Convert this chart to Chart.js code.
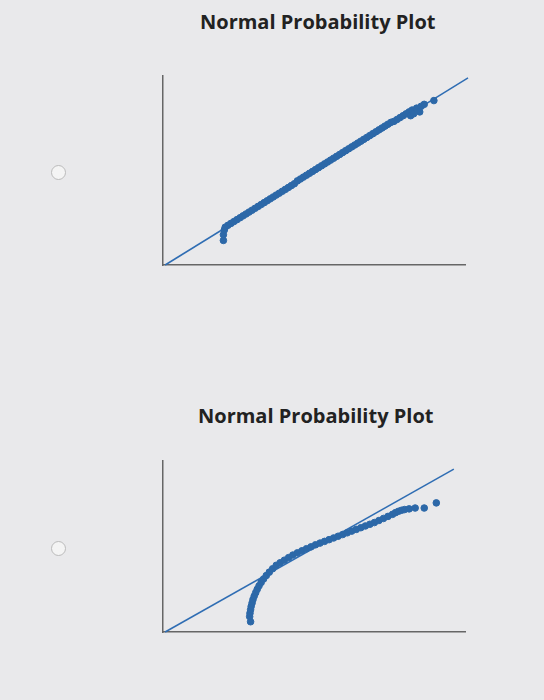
<!DOCTYPE html>
<html><head><meta charset="utf-8">
<script src="https://cdn.jsdelivr.net/npm/chart.js@4/dist/chart.umd.min.js"></script>
<style>
body{margin:0;background:#e9e9eb;width:544px;height:700px;position:relative;overflow:hidden;font-family:"Open Sans",sans-serif}
.t{position:absolute;font-weight:700;font-size:20px;color:#222;white-space:nowrap}
.r{position:absolute;width:13px;height:13px;border:1.5px solid #bbb;border-radius:50%;background:#f4f4f4}
.c{position:absolute}
</style></head><body>
<div class="t" style="left:200px;top:8px">Normal Probability Plot</div>
<div class="t" style="left:198px;top:402px">Normal Probability Plot</div>
<div class="r" style="left:51px;top:165px"></div>
<div class="r" style="left:51px;top:541px"></div>
<div class="c" style="left:158px;top:70px;width:315px;height:200px"><canvas id="c1"></canvas></div>
<div class="c" style="left:158px;top:455px;width:315px;height:182px"><canvas id="c2"></canvas></div>
<script>
const line1 = [[0.7,0],[101,99]];
const pts1 = [[20,13],[20,16],[20.3,18.5],[20.6,20],[21.5,21],[22.5,22],[23.5,23],[24.5,24],[25.5,25],[26.5,26],[27.5,27],[28.5,28],[29.5,29],[30.5,30],[31.5,31],[32.5,32],[33.5,33],[34.5,34],[35.5,35],[36.5,36],[37.5,37],[38.5,38],[39.5,39],[40.5,40],[41.5,41],[42.5,42],[43.5,43],[44.5,44.5],[45.5,45.5],[46.5,46.5],[47.5,47.5],[48.5,48.5],[49.5,49.5],[50.5,50.5],[51.5,51.5],[52.5,52.5],[53.5,53.5],[54.5,54.5],[55.5,55.5],[56.5,56.5],[57.5,57.5],[58.5,58.5],[59.5,59.5],[60.5,60.5],[61.5,61.5],[62.5,62.5],[63.5,63.5],[64.5,64.5],[65.5,65.5],[66.5,66.5],[67.5,67.5],[68.5,68.5],[69.5,69.5],[70.5,70.5],[71.5,71.5],[72.5,72.5],[73.5,73.5],[74.5,74.5],[75.5,75.5],[76.5,76],[77.5,77],[78.5,78],[79.5,79],[80.5,80],[81.5,81],[82,79],[82.5,82],[83,80],[84,83],[85,81],[85.5,84],[86.5,85],[89.7,87]];
const line2 = [[0.7,0],[96.3,95.3]];
const pts2 = [[29,6],[28.7,9],[28.8,11],[29,13],[29.2,15],[29.5,17],[29.8,19],[30.2,21],[30.7,23],[31.2,25],[31.8,27],[32.5,29],[33.3,31],[34.2,33],[35.2,35],[36.3,37],[37.5,39],[38.8,40.5],[40.2,42],[41.6,43.5],[43,45],[44.5,46.3],[46,47.5],[47.5,48.7],[49,49.8],[50.5,51],[52,52],[53.5,53],[55,54],[56.5,55],[58,56],[59.5,57],[61,58],[62.5,59],[64,60],[65.5,61],[67,62],[68.5,63],[70,64],[71.5,65.2],[73,66.4],[74.5,67.6],[76,68.8],[77,69.8],[78,70.6],[79,71.2],[80,71.6],[81.5,72],[83.5,72.5],[86.5,72.5],[90.5,75.5]];
function make(id, line, pts){
  new Chart(document.getElementById(id),{
    type:'scatter',
    data:{datasets:[
      {data:pts.map(p=>({x:p[0],y:p[1]})),backgroundColor:'#2c68a8',borderColor:'#2c68a8',pointRadius:3.3},
      {type:'line',data:line.map(p=>({x:p[0],y:p[1]})),borderColor:'#2f6db3',borderWidth:1.5,pointRadius:0,clip:false}
    ]},
    options:{responsive:true,maintainAspectRatio:false,animation:false,
      layout:{padding:{left:0,right:8,top:6,bottom:0}},
      plugins:{legend:{display:false},tooltip:{enabled:false}},
      scales:{
        x:{type:'linear',min:0,max:100,ticks:{display:false},grid:{display:false,drawTicks:false},border:{color:'#666',width:1.5}},
        y:{type:'linear',min:0,max:100,ticks:{display:false},grid:{display:false,drawTicks:false},border:{color:'#666',width:1.5}}
      }}
  });
}
make('c1',line1,pts1);
make('c2',line2,pts2);
</script></body></html>
